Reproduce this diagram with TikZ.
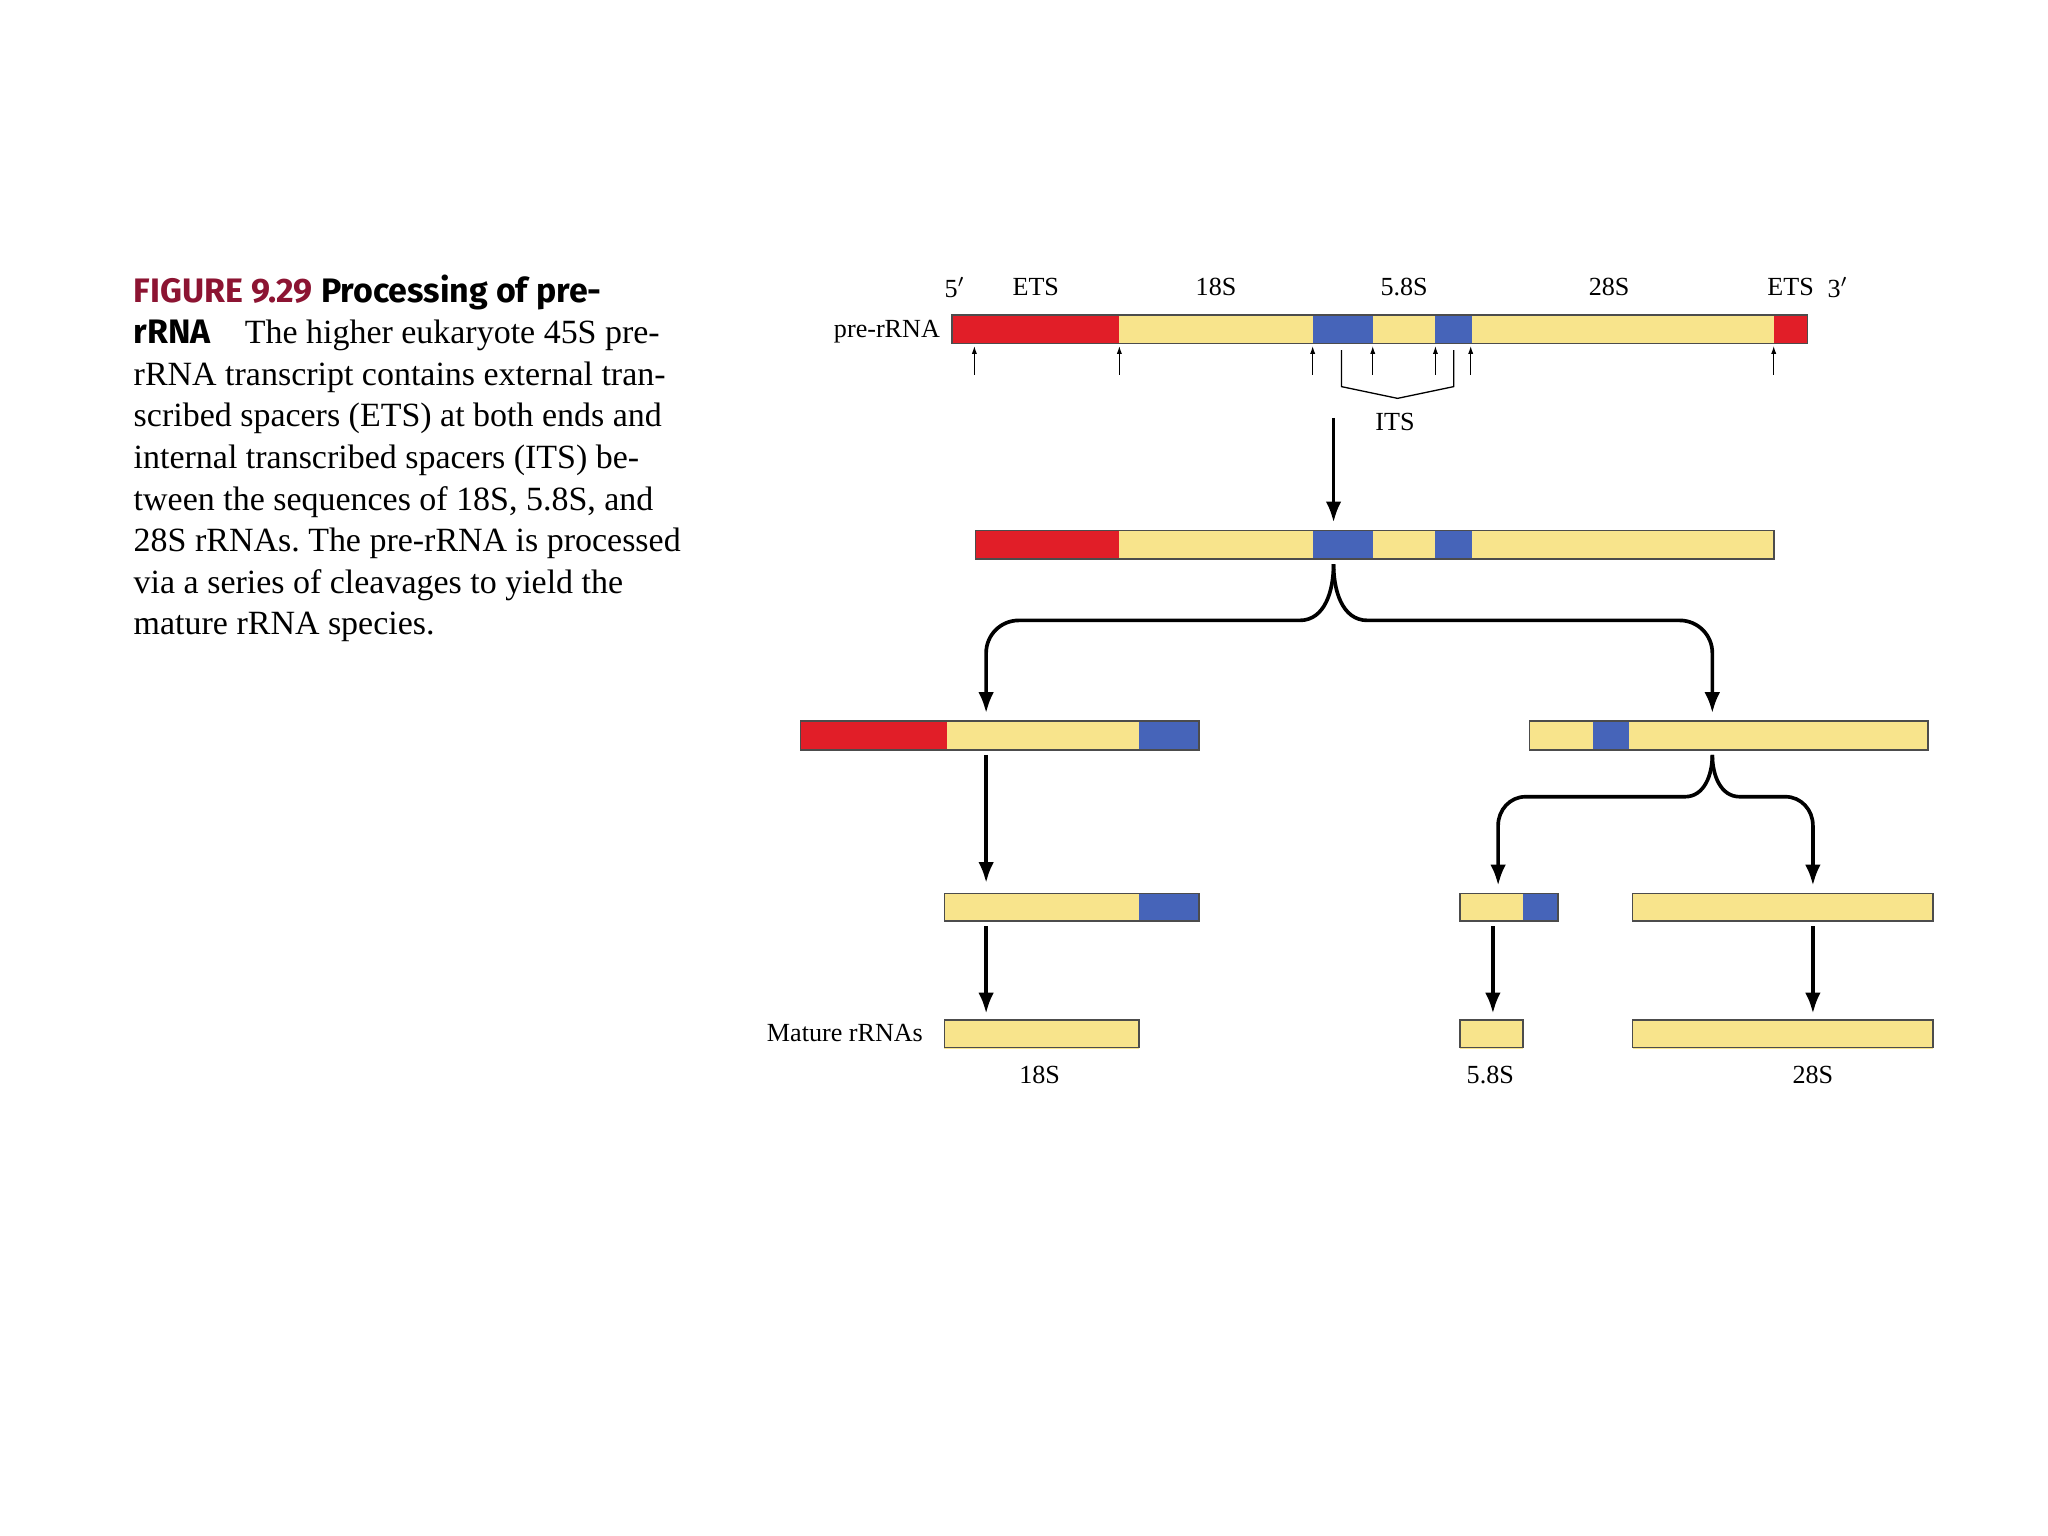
\documentclass[tikz,border=0pt]{standalone}
\usepackage{fontspec}
\setmainfont{Liberation Serif}
\newfontfamily\headfont{Fira Sans}
\usetikzlibrary{arrows.meta}
\definecolor{rred}{RGB}{225,30,40}
\definecolor{ryel}{RGB}{248,228,140}
\definecolor{rblu}{RGB}{70,100,185}
\definecolor{figred}{RGB}{140,20,50}
\begin{document}
\begin{tikzpicture}[x=0.5pt,y=-0.5pt,
  seg/.style={draw=black!70,line width=0.6pt},
  lbl/.style={font=\fontsize{10}{12}\selectfont,inner sep=0pt},
  tick/.style={-{Latex[length=3pt,width=2pt]},line width=0.4pt},
  big/.style={-{Latex[length=8pt,width=6pt]},line width=1.4pt}]
\useasboundingbox[fill=white] (0,0) rectangle (1568,1176);
% caption
\node[anchor=north west,inner sep=0pt,align=left,font=\fontsize{13}{15.9}\selectfont] (cap) at (102,210)
{{\headfont\bfseries\color{figred}FIGURE 9.29}\ {\headfont\bfseries Processing of pre-}\\
{\headfont\bfseries rRNA}\quad The higher eukaryote 45S pre-\\
rRNA transcript contains external tran-\\
scribed spacers (ETS) at both ends and\\
internal transcribed spacers (ITS) be-\\
tween the sequences of 18S, 5.8S, and\\
28S rRNAs.\ The pre-rRNA is processed\\
via a series of cleavages to yield the\\
mature rRNA species.};
\newcommand{\sg}[4]{\fill[#1] (#2,#4) rectangle (#3,#4+22);}
% top bar
\sg{rred}{729}{857}{241}\sg{ryel}{857}{1005}{241}\sg{rblu}{1005}{1051}{241}
\sg{ryel}{1051}{1099}{241}\sg{rblu}{1099}{1127}{241}\sg{ryel}{1127}{1358}{241}\sg{rred}{1358}{1384}{241}
\draw[seg] (729,241) rectangle (1384,263);
\node[lbl] (p5) at (731,220) {5$'$};
\node[lbl] (e1) at (793,220) {ETS};
\node[lbl] (l18) at (931,220) {18S};
\node[lbl] (l58) at (1075,220) {5.8S};
\node[lbl] (l28) at (1232,220) {28S};
\node[lbl] (e2) at (1371,220) {ETS};
\node[lbl] (p3) at (1407,220) {3$'$};
\node[lbl,anchor=east] (pre) at (720,254) {pre-rRNA};
\foreach \x in {746,857,1005,1051,1099,1126,1358}{\draw[tick] (\x,287) -- (\x,265);}
\draw[line width=0.5pt] (1027,268) -- (1027,296) -- (1070,305) -- (1113,296) -- (1113,268);
\node[lbl] (its) at (1068,323) {ITS};
\draw[big] (1021,320) -- (1021,400);
% bar 2
\sg{rred}{747}{857}{406}\sg{ryel}{857}{1005}{406}\sg{rblu}{1005}{1051}{406}
\sg{ryel}{1051}{1099}{406}\sg{rblu}{1099}{1127}{406}\sg{ryel}{1127}{1358}{406}
\draw[seg] (747,406) rectangle (1358,428);
\draw[big] (1021,432) to[out=-90,in=0] (995,475) -- (780,475) to[out=180,in=90] (755,500) -- (755,546);
\draw[big] (1021,432) to[out=-90,in=180] (1047,475) -- (1286,475) to[out=0,in=90] (1311,500) -- (1311,546);
% bar 3
\sg{rred}{613}{725}{552}\sg{ryel}{725}{872}{552}\sg{rblu}{872}{918}{552}
\draw[seg] (613,552) rectangle (918,574);
\sg{ryel}{1171}{1220}{552}\sg{rblu}{1220}{1247}{552}\sg{ryel}{1247}{1476}{552}
\draw[seg] (1171,552) rectangle (1476,574);
\draw[big] (755,578) -- (755,676);
\draw[big] (1311,578) to[out=-90,in=0] (1290,610) -- (1168,610) to[out=180,in=90] (1147,632) -- (1147,678);
\draw[big] (1311,578) to[out=-90,in=180] (1332,610) -- (1367,610) to[out=0,in=90] (1388,632) -- (1388,678);
% bar 4
\sg{ryel}{723}{872}{684}\sg{rblu}{872}{918}{684}
\draw[seg] (723,684) rectangle (918,705);
\sg{ryel}{1118}{1166}{684}\sg{rblu}{1166}{1193}{684}
\draw[seg] (1118,684) rectangle (1193,705);
\sg{ryel}{1250}{1480}{684}
\draw[seg] (1250,684) rectangle (1480,705);
\draw[big] (755,709) -- (755,776);
\draw[big] (1143,709) -- (1143,776);
\draw[big] (1388,709) -- (1388,776);
% bar 5
\sg{ryel}{723}{872}{781}\draw[seg] (723,781) rectangle (872,802);
\sg{ryel}{1118}{1166}{781}\draw[seg] (1118,781) rectangle (1166,802);
\sg{ryel}{1250}{1480}{781}\draw[seg] (1250,781) rectangle (1480,802);
\node[lbl,anchor=east] (mat) at (707,791) {Mature rRNAs};
\node[lbl] (m18) at (796,823) {18S};
\node[lbl] (m58) at (1141,823) {5.8S};
\node[lbl] (m28) at (1388,823) {28S};
\end{tikzpicture}
\end{document}
